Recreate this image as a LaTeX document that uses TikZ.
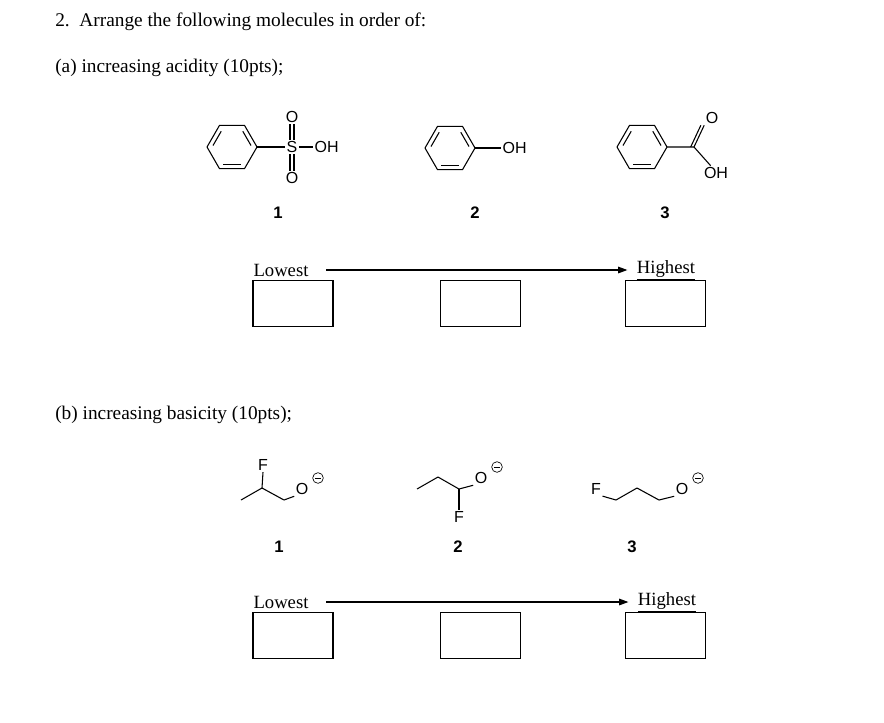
\documentclass[tikz,border=0pt]{standalone}
\usepackage{fontspec}
\setmainfont{Liberation Serif}
\newfontfamily\hv{Liberation Sans}
\usetikzlibrary{arrows.meta}
\begin{document}
\begin{tikzpicture}[x=0.75pt,y=-0.75pt,
  bd/.style={line width=0.8pt,line join=round},
  atm/.style={font=\hv\fontsize{12}{12}\selectfont,inner sep=1pt},
  num/.style={font=\hv\bfseries\fontsize{12.5}{12}\selectfont},
  txt/.style={font=\fontsize{14.5}{16}\selectfont,anchor=west,inner sep=0},
  lab/.style={font=\fontsize{14}{16}\selectfont,inner sep=1pt},
  ans/.style={draw,line width=0.8pt,minimum width=60pt,minimum height=34pt,inner sep=0},
  chg/.style={circle,draw,line width=0.5pt,inner sep=0,minimum size=8pt},
  benz/.pic={
    \draw[bd] (25,0) -- (12.5,-21.65) -- (-12.5,-21.65) -- (-25,0) -- (-12.5,21.65) -- (12.5,21.65) -- cycle;
    \draw[bd] (19,-1.5) -- (10.8,-15.7);
    \draw[bd] (-10.8,-15.7) -- (-19,-1.5);
    \draw[bd] (-9,17.5) -- (9,17.5);
  }]
\useasboundingbox (0,0) rectangle (884,722);
\fill[white] (0,0) rectangle (884,722);
\node[txt] (t1) at (55,22) {2.\ \ Arrange the following molecules in order of:};
\node[txt] (t2) at (55,68) {(a) increasing acidity (10pts);};
\node[txt] (t3) at (55,415) {(b) increasing basicity (10pts);};
% ---- (a) molecule 1
\pic at (232,147) {benz};
\coordinate (r1) at (257,147);
\node[atm] (s1) at (292,147) {S};
\node[atm] (o1) at (292,117) {O};
\node[atm] (o2) at (292,178) {O};
\node[atm,anchor=west] (oh1) at (313,147) {OH};
\draw[bd] (r1) -- (s1.west);
\draw[bd] (s1.east) -- (oh1.west);
\draw[bd] ([xshift=-1.5pt]s1.north) -- ([xshift=-1.5pt]o1.south);
\draw[bd] ([xshift=1.5pt]s1.north) -- ([xshift=1.5pt]o1.south);
\draw[bd] ([xshift=-1.5pt]s1.south) -- ([xshift=-1.5pt]o2.north);
\draw[bd] ([xshift=1.5pt]s1.south) -- ([xshift=1.5pt]o2.north);
% ---- (a) molecule 2
\pic at (450,148) {benz};
\coordinate (r2) at (475,148);
\node[atm,anchor=west] (oh2) at (501,148) {OH};
\draw[bd] (r2) -- (oh2.west);
% ---- (a) molecule 3
\pic at (642,147) {benz};
\coordinate (r3) at (667,147);
\coordinate (c3) at (694,147);
\node[atm] (o3) at (712,118) {O};
\node[atm] (oh3) at (716,173) {OH};
\draw[bd] (r3) -- (c3) -- ([xshift=-4pt]oh3.north);
\draw[bd] (c3) -- (o3.south west);
\draw[bd] ([xshift=-2.5pt]c3) -- ([xshift=-2.5pt]o3.south west);
% labels
\node[num] (n1) at (278,213) {1};
\node[num] (n2) at (475,213) {2};
\node[num] (n3) at (665,213) {3};
\node[lab] (lo1) at (281,270) {Lowest};
\node[lab] (hi1) at (666,270) {\underline{Highest}};
\draw[line width=0.8pt,-{Triangle[length=7pt,width=5pt]}] ([xshift=12pt]lo1.east) -- ([xshift=-6pt]hi1.west);
\node[ans] (b1) at (293,303.5) {};
\node[ans] (b2) at (480.5,303.5) {};
\node[ans] (b3) at (665.5,303.5) {};
% ---- (b) molecule 1
\node[atm] (f1) at (263,465) {F};
\coordinate (p1) at (241,500);
\coordinate (p2) at (262,488);
\coordinate (p3) at (284,500);
\node[atm] (ox1) at (302,489) {O};
\node[chg] (m1) at (318,478) {};
\draw[bd] (p1) -- (p2) -- (p3) -- (ox1.south west);
\draw[bd] (p2) -- (f1.south);
% ---- (b) molecule 2
\coordinate (q1) at (417,489);
\coordinate (q2) at (438,477);
\coordinate (q3) at (459,489);
\node[atm] (ox2) at (481,478) {O};
\node[chg] (m2) at (497,467) {};
\node[atm] (f2) at (459,517) {F};
\draw[bd] (q1) -- (q2) -- (q3) -- (ox2.south west);
\draw[bd] (q3) -- (f2.north);
% ---- (b) molecule 3
\node[atm] (f3) at (596,489) {F};
\coordinate (w1) at (616,500);
\coordinate (w2) at (637,488);
\coordinate (w3) at (659,500);
\node[atm] (ox3) at (682,489) {O};
\node[chg] (m3) at (698,478) {};
\draw[bd] (f3.south east) -- (w1) -- (w2) -- (w3) -- (ox3.south west);
\foreach \m in {m1,m2,m3}{\draw[line width=0.5pt] ([xshift=-2.3pt]\m.center) -- ([xshift=2.3pt]\m.center);}
% labels
\node[num] (k1) at (279,547) {1};
\node[num] (k2) at (458,547) {2};
\node[num] (k3) at (632,547) {3};
\node[lab] (lo2) at (281,602) {Lowest};
\node[lab] (hi2) at (667,602) {\underline{Highest}};
\draw[line width=0.8pt,-{Triangle[length=7pt,width=5pt]}] ([xshift=12pt]lo2.east) -- ([xshift=-6pt]hi2.west);
\node[ans] (b4) at (293,635.5) {};
\node[ans] (b5) at (480.5,635.5) {};
\node[ans] (b6) at (665.5,635.5) {};
\end{tikzpicture}
\end{document}
